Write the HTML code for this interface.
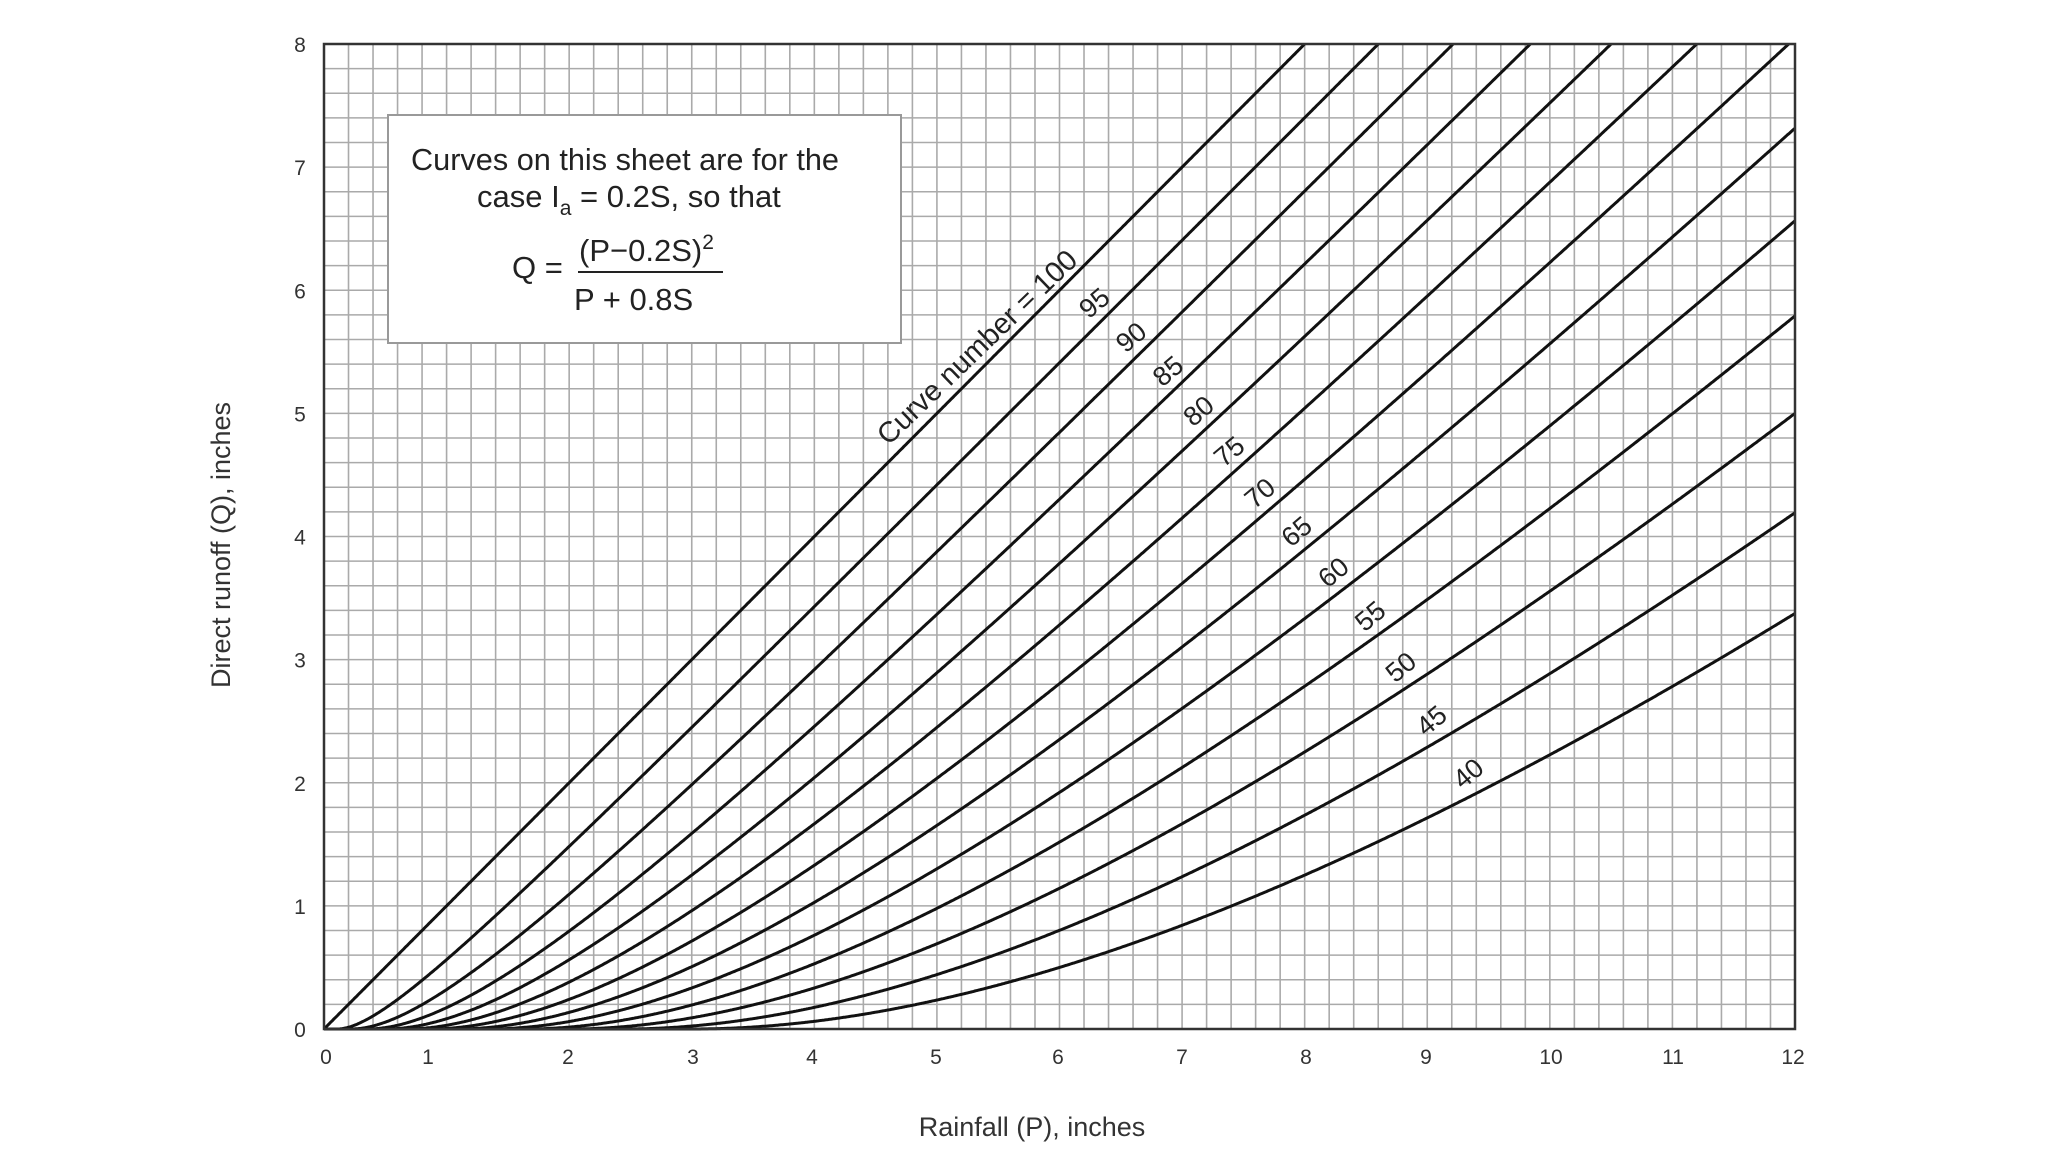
<!DOCTYPE html>
<html><head><meta charset="utf-8"><style>
html,body{margin:0;padding:0;background:#fff;}
svg{display:block;font-family:"Liberation Sans",sans-serif;}
</style></head><body>
<svg id="chart" width="2048" height="1152" viewBox="0 0 2048 1152">
<g id="grid"></g>
<g id="curves"></g>
<rect x="324" y="44" width="1471" height="985" fill="none" stroke="#333" stroke-width="2.5"/>
<g id="ticks" font-size="21" fill="#333"></g>
<g id="clabels" font-size="27" fill="#222"></g>
<g>
<rect x="388" y="115" width="513" height="228" fill="#fff" stroke="#999" stroke-width="2"/>
<text x="411" y="170" font-size="31" fill="#222" textLength="428" lengthAdjust="spacingAndGlyphs">Curves on this sheet are for the</text>
<text x="477" y="207" font-size="31" fill="#222">case I<tspan font-size="21" dy="8">a</tspan><tspan dy="-8"> = 0.2S, so that</tspan></text>
<text x="512" y="278" font-size="31" fill="#222">Q =</text>
<text x="579" y="261" font-size="31" fill="#222">(P−0.2S)<tspan font-size="21" dy="-12">2</tspan></text>
<line x1="578" y1="272" x2="723" y2="272" stroke="#222" stroke-width="2"/>
<text x="574" y="310" font-size="31" fill="#222">P + 0.8S</text>
</g>
<text transform="translate(230,545) rotate(-90)" font-size="27" text-anchor="middle" fill="#333">Direct runoff (Q), inches</text>
<text x="1032" y="1136" font-size="27" text-anchor="middle" fill="#333">Rainfall (P), inches</text>
</svg>
<script>
const curveNumbers=[100,95,90,85,80,75,70,65,60,55,50,45,40];
const xTickLabels=["0","1","2","3","4","5","6","7","8","9","10","11","12"];
const yTickLabels=["0","1","2","3","4","5","6","7","8"];
const curveLabelText=["Curve number = 100","95","90","85","80","75","70","65","60","55","50","45","40"];
const curveLabelP=[5.35,6.3,6.6,6.9,7.15,7.4,7.65,7.95,8.25,8.55,8.8,9.05,9.35];
const NS="http://www.w3.org/2000/svg";
const L=324,R=1795,T=44,B=1029;
const xs=p=>L+(R-L)*p/12, ys=q=>B-(B-T)*q/8;
function mk(t,a,parent){const e=document.createElementNS(NS,t);for(const k in a)e.setAttribute(k,a[k]);parent.appendChild(e);return e;}
const grid=document.getElementById('grid');
for(let i=1;i<60;i++){const l=mk('line',{x1:xs(i/5),x2:xs(i/5),y1:T,y2:B,stroke:'#aaa','stroke-width':1.6},grid);

}
for(let i=1;i<40;i++){const l=mk('line',{x1:L,x2:R,y1:ys(i/5),y2:ys(i/5),stroke:'#aaa','stroke-width':1.6},grid);

}
function runoff(p,cn){const s=1000/cn-10;const ia=0.2*s;return p<=ia?0:(p-ia)*(p-ia)/(p+0.8*s);}
const cg=document.getElementById('curves');
const lg=document.getElementById('clabels');
curveNumbers.forEach((cn,ci)=>{let d='';let started=false;
for(let k=0;k<=1200;k++){const p=k/100;const q=runoff(p,cn);
if(q>8){let lo=p-0.01,hi=p;for(let j=0;j<30;j++){const m=(lo+hi)/2;runoff(m,cn)>8?hi=m:lo=m;}d+=' L'+xs(lo).toFixed(1)+','+ys(8).toFixed(1);break;}
d+=(started?' L':'M')+xs(p).toFixed(1)+','+ys(q).toFixed(1);started=true;}
const path=mk('path',{d:d,fill:'none',stroke:'#111','stroke-width':3},cg);


const p=curveLabelP[ci],q=runoff(p,cn);
const ang=ci===0?-44:-40;
const fs=ci===0?29:27;
const t=mk('text',{transform:`translate(${xs(p)+4},${ys(q)-16}) rotate(${ang})`,'text-anchor':'middle','font-size':fs},lg);
t.textContent=curveLabelText[ci];


});
const tg=document.getElementById('ticks');
const xLabelPos=[326,428,568,693,812,936,1058,1182,1306,1426,1551,1673,1793];
xTickLabels.forEach((s,i)=>{const t=mk('text',{x:xLabelPos[i],y:1064,'text-anchor':'middle'},tg);t.textContent=s;

});
yTickLabels.forEach((s,i)=>{const t=mk('text',{x:300,y:ys(i)+8,'text-anchor':'middle'},tg);t.textContent=s;

});
</script>
</body></html>
